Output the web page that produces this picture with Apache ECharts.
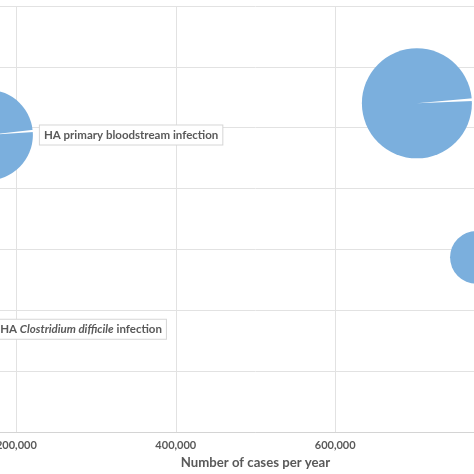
<!DOCTYPE html>
<html>
<head>
<meta charset="utf-8">
<script src="https://cdn.jsdelivr.net/npm/echarts@6/dist/echarts.min.js"></script>
<style>
html,body{margin:0;padding:0;background:#fff;overflow:hidden;width:474px;height:474px;}
#wrap{position:relative;width:474px;height:474px;overflow:hidden;}
#chart{position:absolute;left:-143px;top:0;width:797px;height:474px;}
</style>
</head>
<body>
<div id="wrap"><div id="chart"></div></div>
<script>
// ---- data ----
var infectionNames = ['HA primary bloodstream infection', 'HA {i|Clostridium difficile} infection', '', ''];
var casesPerYear   = [163800, 112000, 702500, 777200];
var yValues        = [4.88, 1.69, 5.40, 2.87];
var bubbleValues   = [68, 61, 100, 23];
var leaderAngles   = [-5, 0, -3.8, -3];   // direction of the white leader line (deg)
var xTicks         = {min: 0, max: 1000000, interval: 200000};
var xTitle         = 'Number of cases per year';

var maxBubble = Math.max.apply(null, bubbleValues);
function radiusOf(v) { return 55 * Math.sqrt(v / maxBubble); }

var points = casesPerYear.map(function (x, i) {
  return {
    value: [x, yValues[i], bubbleValues[i], leaderAngles[i]],
    name: infectionNames[i],
    label: {show: infectionNames[i] !== ''}
  };
});

var chart = echarts.init(document.getElementById('chart'), null, {renderer: 'canvas'});
var gray = '#595959';
chart.setOption({
  animation: false,
  backgroundColor: '#fff',
  grid: {left: 0, right: 0, top: 6, bottom: 42, containLabel: false, outerBoundsMode: 'none'},
  xAxis: {
    type: 'value',
    min: xTicks.min, max: xTicks.max, interval: xTicks.interval,
    name: xTitle,
    nameLocation: 'middle',
    nameGap: 23,
    nameTextStyle: {color: gray, fontFamily: 'Lato', fontWeight: 'bold', fontSize: 13.2},
    axisLine: {lineStyle: {color: '#d4d4d4', width: 1}},
    axisTick: {show: false},
    axisLabel: {
      color: gray, fontFamily: 'Lato', fontWeight: 'bold', fontSize: 11, margin: 8,
      formatter: function (v) { return v.toLocaleString('en-US'); }
    },
    splitLine: {show: true, lineStyle: {color: '#e2e2e2', width: 1}}
  },
  yAxis: {
    type: 'value', min: 0, max: 7, interval: 1,
    axisLine: {show: false}, axisTick: {show: false},
    axisLabel: {show: false},
    splitLine: {show: true, lineStyle: {color: '#e2e2e2', width: 1}}
  },
  series: [
    {
      type: 'scatter',
      data: points,
      symbol: 'circle',
      symbolSize: function (val) { return 2 * radiusOf(val[2]); },
      itemStyle: {color: '#7bafdd', opacity: 1},
      label: {
        position: 'right',
        distance: 7,
        formatter: function (p) { return p.name; },
        backgroundColor: '#fff',
        borderColor: '#d6d6d6',
        borderWidth: 1,
        padding: [4, 4, 3, 4],
        color: gray,
        fontFamily: 'Lato',
        fontWeight: 'bold',
        fontSize: 11.5,
        rich: {
          i: {color: gray, fontFamily: 'Lato', fontWeight: 'bold', fontStyle: 'italic', fontSize: 11.5}
        }
      },
      z: 2
    },
    {
      type: 'custom',
      data: points.map(function (p) { return p.value; }),
      renderItem: function (params, api) {
        var c = api.coord([api.value(0), api.value(1)]);
        var r = radiusOf(api.value(2));
        var a = api.value(3) * Math.PI / 180;
        var half = 1.4 * Math.PI / 180;
        return {
          type: 'sector',
          shape: {cx: c[0], cy: c[1], r0: 0, r: r + 1, startAngle: a - half, endAngle: a + half, clockwise: true},
          style: {fill: '#ffffff'},
          z2: 5
        };
      },
      silent: true,
      z: 3
    }
  ]
});
</script>
</body>
</html>
